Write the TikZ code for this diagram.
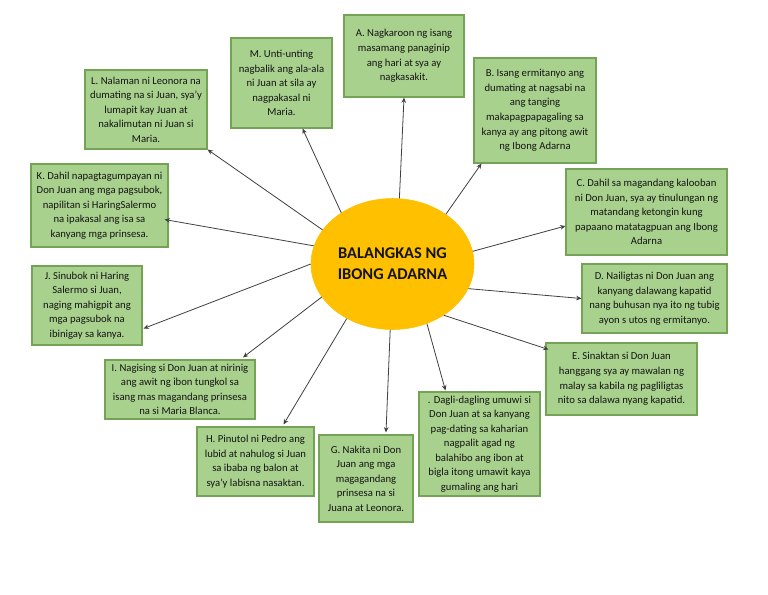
\documentclass[tikz,border=0pt]{standalone}
\usepackage{fontspec}
\setmainfont{Carlito}
\usetikzlibrary{shapes.geometric,calc,arrows.meta}
\definecolor{boxfill}{HTML}{A9D18E}
\definecolor{boxline}{HTML}{74A356}
\definecolor{gold}{HTML}{FFC000}
\definecolor{arr}{HTML}{404040}
\definecolor{txt}{HTML}{141414}
\begin{document}
\begin{tikzpicture}[x=0.75pt,y=-0.75pt,
  bx/.style 2 args={draw=boxline, line width=0.8pt, fill=boxfill, align=center, inner sep=0pt,
     text=txt, font=\fontsize{8}{10.9}\selectfont,
     minimum width={#1*0.75pt}, minimum height={#2*0.75pt}},
  conn/.style={draw=arr, line width=0.6pt, -{Stealth[length=4pt,width=3.5pt]}}]
\useasboundingbox (0,0) rectangle (768,594);
\fill[white] (0,0) rectangle (768,594);

\node[ellipse, fill=gold, draw=gold, minimum width={163*0.75pt}, minimum height={131*0.75pt}, inner sep=0pt,
  align=center, font=\fontsize{12.3}{15.5}\selectfont\bfseries, text=txt] (ell) at (392.5,264)
  {BALANGKAS NG\\IBONG ADARNA};

\node[bx={120}{82}] (A) at (404,56) {A. Nagkaroon ng isang\\masamang panaginip\\ang hari at sya ay\\nagkasakit.};
\node[bx={101}{90}] (M) at (281.5,83) {M. Unti-unting\\nagbalik ang ala-ala\\ni Juan at sila ay\\nagpakasal ni\\Maria.};
\node[bx={122}{79}] (L) at (146,109.5) {L. Nalaman ni Leonora na\\dumating na si Juan, sya'y\\lumapit kay Juan at\\nakalimutan ni Juan si\\Maria.};
\node[bx={122}{105}] (B) at (535,110.5) {B. Isang ermitanyo ang\\dumating at nagsabi na\\ang tanging\\makapagpapagaling sa\\kanya ay ang pitong awit\\ng Ibong Adarna};
\node[bx={161}{86}] (C) at (646.5,212) {C. Dahil sa magandang kalooban\\ni Don Juan, sya ay tinulungan ng\\matandang ketongin kung\\papaano matatagpuan ang Ibong\\Adarna};
\node[bx={137}{83}] (K) at (99.5,205.5) {K. Dahil napagtagumpayan ni\\Don Juan ang mga pagsubok,\\napilitan si HaringSalermo\\na ipakasal ang isa sa\\kanyang mga prinsesa.};
\node[bx={145}{69}] (D) at (654.5,298.5) {D. Nailigtas ni Don Juan ang\\kanyang dalawang kapatid\\nang buhusan nya ito ng tubig\\ayon s utos ng ermitanyo.};
\node[bx={110}{79}] (J) at (87,305.5) {J. Sinubok ni Haring\\Salermo si Juan,\\naging mahigpit ang\\mga pagsubok na\\ibinigay sa kanya.};
\node[bx={151}{72}] (E) at (621.5,379) {E. Sinaktan si Don Juan\\hanggang sya ay mawalan ng\\malay sa kabila ng pagliligtas\\nito sa dalawa nyang kapatid.};
\node[bx={150}{59}] (I) at (180,389.5) {I. Nagising si Don Juan at nirinig\\ang awit ng ibon tungkol sa\\isang mas magandang prinsesa\\na si Maria Blanca.};
\node[bx={117}{69}] (H) at (255.5,461.5) {H. Pinutol ni Pedro ang\\lubid at nahulog si Juan\\sa ibaba ng balon at\\sya'y labisna nasaktan.};
\node[bx={94}{87}] (G) at (366,478.5) {G. Nakita ni Don\\Juan ang mga\\magagandang\\prinsesa na si\\Juana at Leonora.};
\node[bx={121}{104}] (F) at (479.5,444) {. Dagli-dagling umuwi si\\Don Juan at sa kanyang\\pag-dating sa kaharian\\nagpalit agad ng\\balahibo ang ibon at\\bigla itong umawit kaya\\gumaling ang hari};

\draw[conn] (ell.84) -- (A.south);
\draw[conn] (ell.135) -- ($(M.south)+(21,0)$);
\draw[conn] (ell.154) -- (L.south east);
\draw[conn] (ell.43) -- ($(B.south west)+(8,0)$);
\draw[conn] (ell.9) -- ($(C.west)+(0,14)$);
\draw[conn] (ell.167) -- ($(K.east)+(-4,14)$);
\draw[conn] (ell.180) -- ($(J.east)+(1,23)$);
\draw[conn] (ell.-18) -- (D.west);
\draw[conn] (ell.-45) -- ($(E.north west)+(3,7)$);
\draw[conn] (ell.-155) -- ($(I.north)+(63,-2)$);
\draw[conn] (ell.-130) -- ($(H.north)+(28,-2)$);
\draw[conn] (ell.-92) -- ($(G.north)+(20,-2)$);
\draw[conn] (ell.-60) -- ($(F.north west)+(27,-1)$);
\end{tikzpicture}
\end{document}
